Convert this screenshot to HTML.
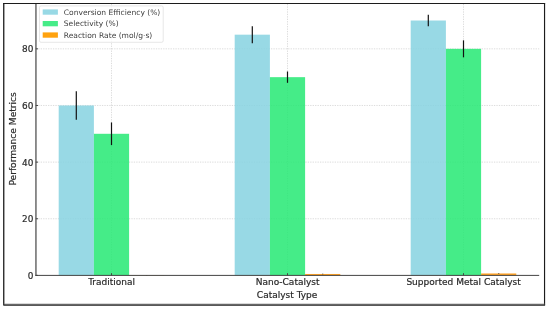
<!DOCTYPE html>
<html lang="en"><head><meta charset="utf-8"><title>Catalyst performance chart</title>
<style>html,body{margin:0;padding:0;background:#fff;overflow:hidden}svg{display:block}text{font-family:"DejaVu Sans","Liberation Sans",sans-serif;fill:#2a2a2a}.t text{stroke:#2a2a2a;stroke-width:0.2px}.l text{fill:#3c3c3c}</style></head><body>
<svg width="550" height="310" viewBox="0 0 550 310">
<rect x="0" y="0" width="550" height="310" fill="#fff"/>
<g stroke="#cdcdcd" stroke-width="0.7" stroke-dasharray="1.3 1.15" fill="none">
<line x1="35.8" y1="218.76" x2="539.2" y2="218.76"/>
<line x1="35.8" y1="162.12" x2="539.2" y2="162.12"/>
<line x1="35.8" y1="105.48" x2="539.2" y2="105.48"/>
<line x1="35.8" y1="48.84" x2="539.2" y2="48.84"/>
<line x1="111.50" y1="4" x2="111.50" y2="275.40"/>
<line x1="287.50" y1="4" x2="287.50" y2="275.40"/>
<line x1="463.50" y1="4" x2="463.50" y2="275.40"/>
</g>
<rect x="58.70" y="105.48" width="35.20" height="169.92" fill="#86d2e0" fill-opacity="0.85"/>
<rect x="93.90" y="133.80" width="35.20" height="141.60" fill="#25e973" fill-opacity="0.85"/>
<rect x="129.10" y="275.12" width="35.20" height="0.28" fill="#ff9300" fill-opacity="0.85"/>
<rect x="234.70" y="34.68" width="35.20" height="240.72" fill="#86d2e0" fill-opacity="0.85"/>
<rect x="269.90" y="77.16" width="35.20" height="198.24" fill="#25e973" fill-opacity="0.85"/>
<rect x="305.10" y="273.98" width="35.20" height="1.42" fill="#ff9300" fill-opacity="0.85"/>
<rect x="410.70" y="20.52" width="35.20" height="254.88" fill="#86d2e0" fill-opacity="0.85"/>
<rect x="445.90" y="48.84" width="35.20" height="226.56" fill="#25e973" fill-opacity="0.85"/>
<rect x="481.10" y="273.47" width="35.20" height="1.93" fill="#ff9300" fill-opacity="0.85"/>
<g stroke="#111" stroke-width="1.2" fill="none">
<line x1="76.30" y1="91.32" x2="76.30" y2="119.64"/>
<line x1="111.50" y1="122.47" x2="111.50" y2="145.13"/>
<line x1="146.70" y1="275.06" x2="146.70" y2="275.17"/>
<line x1="252.30" y1="26.18" x2="252.30" y2="43.18"/>
<line x1="287.50" y1="71.50" x2="287.50" y2="82.82"/>
<line x1="322.70" y1="273.76" x2="322.70" y2="274.21"/>
<line x1="428.30" y1="14.86" x2="428.30" y2="26.18"/>
<line x1="463.50" y1="40.34" x2="463.50" y2="57.34"/>
<line x1="498.70" y1="273.19" x2="498.70" y2="273.76"/>
</g>
<g stroke="#444" stroke-width="1.0" fill="none">
<line x1="35.95" y1="3.5" x2="35.95" y2="275.85" stroke-width="1.2"/>
<line x1="35.35" y1="275.40" x2="539.20" y2="275.40"/>
<line x1="35.80" y1="275.40" x2="38.00" y2="275.40"/>
<line x1="35.80" y1="218.76" x2="38.00" y2="218.76"/>
<line x1="35.80" y1="162.12" x2="38.00" y2="162.12"/>
<line x1="35.80" y1="105.48" x2="38.00" y2="105.48"/>
<line x1="35.80" y1="48.84" x2="38.00" y2="48.84"/>
<line x1="111.50" y1="275.40" x2="111.50" y2="273.20"/>
<line x1="287.50" y1="275.40" x2="287.50" y2="273.20"/>
<line x1="463.50" y1="275.40" x2="463.50" y2="273.20"/>
</g>
<g class="t" font-size="9.17">
<text transform="translate(33.3 278.95) scale(0.97 1.03)" text-anchor="end">0</text>
<text transform="translate(33.3 222.31) scale(0.97 1.03)" text-anchor="end">20</text>
<text transform="translate(33.3 165.67) scale(0.97 1.03)" text-anchor="end">40</text>
<text transform="translate(33.3 109.03) scale(0.97 1.03)" text-anchor="end">60</text>
<text transform="translate(33.3 52.39) scale(0.97 1.03)" text-anchor="end">80</text>
<text transform="translate(111.60 285.45) scale(0.985 1.04)" text-anchor="middle">Traditional</text>
<text transform="translate(287.60 285.45) scale(0.985 1.04)" text-anchor="middle">Nano-Catalyst</text>
<text transform="translate(463.60 285.45) scale(0.985 1.04)" text-anchor="middle">Supported Metal Catalyst</text>
<text transform="translate(287.1 297.55) scale(0.985 1.04)" text-anchor="middle">Catalyst Type</text>
<text transform="translate(16.4 138.9) rotate(-90) scale(0.99 1.04)" text-anchor="middle">Performance Metrics</text>
</g>
<rect x="39.5" y="5.9" width="123.7" height="36.4" rx="1.5" ry="1.5" fill="#fff" fill-opacity="0.8" stroke="#dcdcdc" stroke-width="0.7"/>
<g class="l" font-size="7.56">
<rect x="42.7" y="9.40" width="15.2" height="5.3" fill="#98d9e5"/>
<text x="63.8" y="14.80">Conversion Efficiency (%)</text>
<rect x="42.7" y="21.00" width="15.2" height="5.3" fill="#46ec88"/>
<text x="63.8" y="26.40">Selectivity (%)</text>
<rect x="42.7" y="32.40" width="15.2" height="5.3" fill="#ffa20f"/>
<text x="63.8" y="37.80">Reaction Rate (mol/g·s)</text>
</g>
<path d="M3.75 305 V3" fill="none" stroke="#1c1c1c" stroke-width="1.3"/>
<path d="M3.1 3.55 H545.1" fill="none" stroke="#1c1c1c" stroke-width="1.1"/>
<path d="M544.55 3 V305" fill="none" stroke="#1c1c1c" stroke-width="1.15"/>
<path d="M3.5 304.2 H544.9" fill="none" stroke="#777" stroke-width="0.9"/>
<path d="M3.3 305.15 H545.1" fill="none" stroke="#222" stroke-width="1.2"/>
</svg></body></html>
